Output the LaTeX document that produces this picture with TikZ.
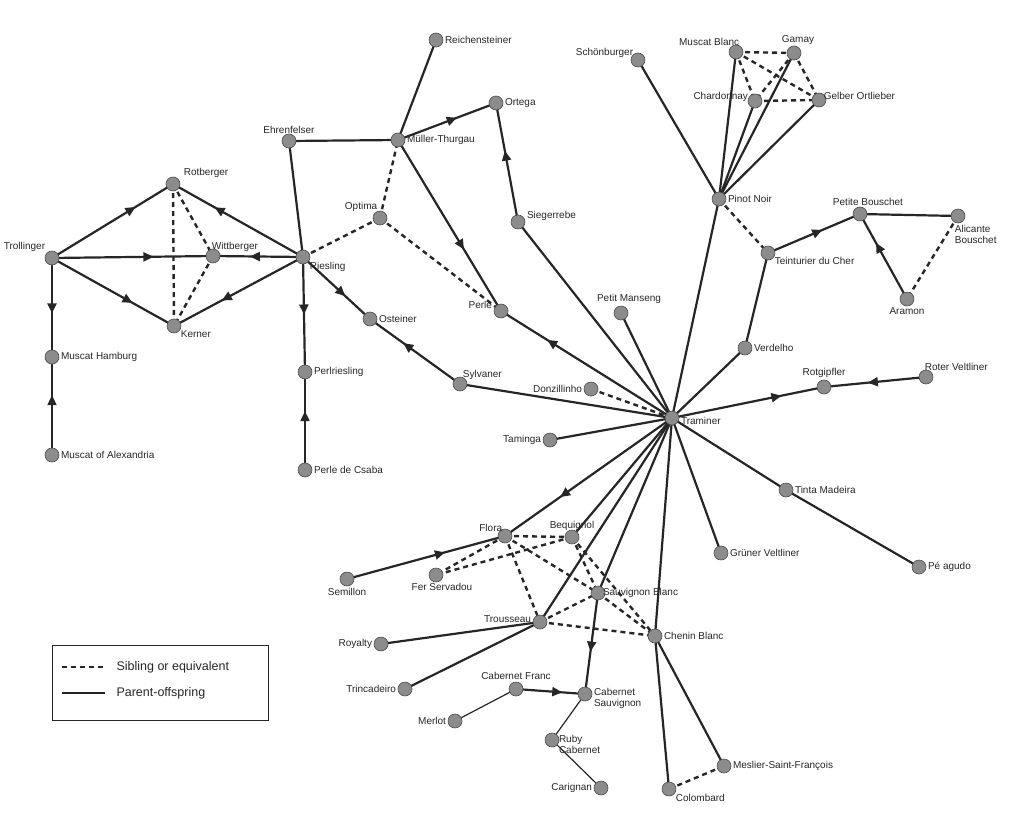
\documentclass[tikz,border=0pt]{standalone}
\usepackage{fontspec}
\setmainfont{Liberation Sans}
\usetikzlibrary{arrows.meta,decorations.markings}
\pgfdeclarelayer{bg}
\pgfsetlayers{bg,main}
\begin{document}
\begin{tikzpicture}[x=1pt,y=-1pt,
  v/.style={circle,fill=black!45,draw=black!70,line width=0.6pt,minimum size=14pt,inner sep=0pt},
  every label/.style={font=\fontsize{10}{11}\selectfont,inner sep=1.5pt,text=black!85},
  s/.style={line width=2.2pt,black!85},
  t/.style={line width=1.2pt,black!85},
  d/.style={line width=2.4pt,black!85,dash pattern=on 5pt off 4pt},
  ar/.style={postaction={decorate},decoration={markings,mark=at position #1 with {\arrow{Triangle[length=10pt,width=9pt]}}}},
  ar/.default=0.6]
\useasboundingbox (0,0) rectangle (1027,816);
% nodes
\node[v,label={above left:Trollinger}] (trol) at (52,258) {};
\node[v,label={[xshift=4pt]above right:Rotberger}] (rot) at (173,184) {};
\node[v,label={[xshift=-8pt,yshift=-2pt]above right:Wittberger}] (witt) at (213,256) {};
\node[v,label={[yshift=2pt]below right:Kerner}] (kern) at (174,326) {};
\node[v,label={[yshift=2pt]below right:Riesling}] (ries) at (303,257) {};
\node[v,label={right:Muscat Hamburg}] (mh) at (52,357) {};
\node[v,label={right:Muscat of Alexandria}] (moa) at (52,455) {};
\node[v,label={[yshift=-2pt]above:Ehrenfelser}] (ehr) at (289,141) {};
\node[v,label={right:Müller-Thurgau}] (mt) at (398,140) {};
\node[v,label={right:Reichensteiner}] (reich) at (436,40) {};
\node[v,label={right:Ortega}] (ort) at (496,103) {};
\node[v,label={[xshift=4pt]above left:Optima}] (opt) at (380,218) {};
\node[v,label={[yshift=6pt]right:Siegerrebe}] (sieg) at (518,222) {};
\node[v,label={[yshift=6pt]left:Perle}] (perle) at (501,311) {};
\node[v,label={right:Osteiner}] (ost) at (370,319) {};
\node[v,label={right:Perlriesling}] (perlr) at (305,372) {};
\node[v,label={right:Perle de Csaba}] (pdc) at (305,470) {};
\node[v,label={[xshift=-4pt,yshift=-2pt]above right:Sylvaner}] (sylv) at (460,384) {};
\node[v,label={left:Donzillinho}] (donz) at (591,389) {};
\node[v,label={[xshift=8pt]above:Petit Manseng}] (pm) at (621,313) {};
\node[v,label={[yshift=-3pt]right:Traminer}] (tram) at (672,418) {};
\node[v,label={left:Taminga}] (tam) at (550,440) {};
\node[v,label={[xshift=2pt,yshift=-4pt]above left:Schönburger}] (schon) at (638,60) {};
\node[v,label={[xshift=10pt]above left:Muscat Blanc}] (mb) at (736,52) {};
\node[v,label={[xshift=4pt,yshift=-1pt]above:Gamay}] (gam) at (794,53) {};
\node[v,label={[xshift=2pt,yshift=4pt]left:Chardonnay}] (chard) at (755,101) {};
\node[v,label={[xshift=-2pt,yshift=-6pt]above right:Gelber Ortlieber}] (go) at (819,100) {};
\node[v,label={right:Pinot Noir}] (pn) at (719,199) {};
\node[v,label={[xshift=8pt,yshift=-1pt]above:Petite Bouschet}] (pb) at (860,214) {};
\node[v,label={[xshift=-10pt,yshift=-2pt,align=left]below right:Alicante\\Bouschet}] (ab) at (958,216) {};
\node[v,label={[yshift=3pt]below right:Teinturier du Cher}] (tein) at (768,253) {};
\node[v,label={below:Aramon}] (aram) at (907,299) {};
\node[v,label={right:Verdelho}] (verd) at (745,348) {};
\node[v,label={above:Rotgipfler}] (rotg) at (824,387) {};
\node[v,label={[xshift=-8pt]above right:Roter Veltliner}] (rv) at (926,377) {};
\node[v,label={right:Tinta Madeira}] (tm) at (786,490) {};
\node[v,label={right:Pé agudo}] (pea) at (919,567) {};
\node[v,label={right:Grüner Veltliner}] (gv) at (721,553) {};
\node[v,label={[xshift=4pt,yshift=-2pt]above left:Flora}] (flora) at (505,536) {};
\node[v,label={[yshift=-3pt]above:Bequignol}] (beq) at (572,537) {};
\node[v,label={below:Semillon}] (sem) at (347,579) {};
\node[v,label={[xshift=6pt,yshift=1pt]below:Fer Servadou}] (fer) at (436,575) {};
\node[v,label={[xshift=-4pt]right:Sauvignon Blanc}] (sb) at (598,593) {};
\node[v,label={[yshift=3pt]left:Trousseau}] (trou) at (540,622) {};
\node[v,label={right:Chenin Blanc}] (chen) at (655,636) {};
\node[v,label={left:Royalty}] (roy) at (381,644) {};
\node[v,label={left:Trincadeiro}] (trin) at (405,689) {};
\node[v,label={above:Cabernet Franc}] (cf) at (516,689) {};
\node[v,label={[align=left,yshift=-4pt]right:Cabernet\\Sauvignon}] (cs) at (585,694) {};
\node[v,label={left:Merlot}] (mer) at (455,721) {};
\node[v,label={[align=left,xshift=-2pt,yshift=-4pt]right:Ruby\\Cabernet}] (rc) at (552,740) {};
\node[v,label={left:Carignan}] (car) at (601,788) {};
\node[v,label={[yshift=2pt]below right:Colombard}] (col) at (669,789) {};
\node[v,label={right:Meslier-Saint-François}] (mes) at (724,766) {};
\begin{pgfonlayer}{bg}
% Trollinger cluster
\draw[s,ar=0.69] (trol.center) -- (rot.center);
\draw[s,ar=0.63] (trol.center) -- (witt.center);
\draw[s,ar=0.66] (trol.center) -- (kern.center);
\draw[s,ar=0.56] (trol.center) -- (mh.center);
\draw[s,ar=0.61] (moa.center) -- (mh.center);
\draw[s,ar=0.68] (ries.center) -- (rot.center);
\draw[s,ar=0.59] (ries.center) -- (witt.center);
\draw[s,ar=0.63] (ries.center) -- (kern.center);
\draw[d] (rot.center) -- (kern.center);
\draw[d] (rot.center) -- (witt.center);
\draw[d] (witt.center) -- (kern.center);
\draw[s,ar=0.5] (ries.center) -- (perlr.center);
\draw[s,ar=0.6] (pdc.center) -- (perlr.center);
\draw[s,ar=0.63] (ries.center) -- (ost.center);
\draw[s,ar=0.63] (sylv.center) -- (ost.center);
\draw[s] (ries.center) -- (ehr.center);
\draw[s] (ehr.center) -- (mt.center);
\draw[s] (mt.center) -- (reich.center);
\draw[s,ar=0.6] (mt.center) -- (ort.center);
\draw[s,ar=0.6] (sieg.center) -- (ort.center);
\draw[s,ar=0.64] (mt.center) -- (perle.center);
\draw[d] (ries.center) -- (opt.center);
\draw[d] (opt.center) -- (mt.center);
\draw[d] (opt.center) -- (perle.center);
\draw[s,ar=0.73] (tram.center) -- (perle.center);
\draw[s] (tram.center) -- (sieg.center);
\draw[s] (tram.center) -- (sylv.center);
\draw[d] (tram.center) -- (donz.center);
\draw[s] (tram.center) -- (pm.center);
\draw[s] (tram.center) -- (tam.center);
% Pinot
\draw[s] (tram.center) -- (pn.center);
\draw[s] (schon.center) -- (pn.center);
\draw[s] (pn.center) -- (mb.center);
\draw[s] (pn.center) -- (gam.center);
\draw[s] (pn.center) -- (chard.center);
\draw[s] (pn.center) -- (go.center);
\draw[d] (mb.center) -- (gam.center);
\draw[d] (mb.center) -- (go.center);
\draw[d] (mb.center) -- (chard.center);
\draw[d] (gam.center) -- (chard.center);
\draw[d] (gam.center) -- (go.center);
\draw[d] (chard.center) -- (go.center);
\draw[d] (pn.center) -- (tein.center);
\draw[s,ar=0.59] (tein.center) -- (pb.center);
\draw[s,ar=0.66] (aram.center) -- (pb.center);
\draw[s] (pb.center) -- (ab.center);
\draw[d] (ab.center) -- (aram.center);
\draw[s] (tein.center) -- (verd.center);
\draw[s] (tram.center) -- (verd.center);
\draw[s,ar=0.72] (tram.center) -- (rotg.center);
\draw[s,ar=0.57] (rv.center) -- (rotg.center);
\draw[s] (tram.center) -- (tm.center);
\draw[s] (tm.center) -- (pea.center);
\draw[s] (tram.center) -- (gv.center);
% lower cluster
\draw[s,ar=0.67] (tram.center) -- (flora.center);
\draw[s] (tram.center) -- (beq.center);
\draw[s] (tram.center) -- (trou.center);
\draw[s] (tram.center) -- (sb.center);
\draw[s] (tram.center) -- (chen.center);
\draw[s,ar=0.62] (sem.center) -- (flora.center);
\draw[d] (flora.center) -- (beq.center);
\draw[d] (flora.center) -- (fer.center);
\draw[d] (beq.center) -- (fer.center);
\draw[d] (flora.center) -- (trou.center);
\draw[d] (flora.center) -- (sb.center);
\draw[d] (sb.center) -- (chen.center);
\draw[d] (beq.center) -- (sb.center);
\draw[d] (beq.center) -- (chen.center);
\draw[d] (trou.center) -- (sb.center);
\draw[d] (trou.center) -- (chen.center);
\draw[s] (trou.center) -- (roy.center);
\draw[s] (trou.center) -- (trin.center);
\draw[s,ar=0.58] (sb.center) -- (cs.center);
\draw[s,ar=0.67] (cf.center) -- (cs.center);
\draw[t] (mer.center) -- (cf.center);
\draw[t] (rc.center) -- (cs.center);
\draw[t] (rc.center) -- (car.center);
\draw[s] (chen.center) -- (col.center);
\draw[s] (chen.center) -- (mes.center);
\draw[d] (col.center) -- (mes.center);
\end{pgfonlayer}
% legend
\node[draw=black!85,line width=1.2pt,minimum width=216pt,minimum height=75pt,anchor=north west] (leg) at (52,645) {};
\coordinate (l1a) at (62,667); \coordinate (l1b) at (105,667);
\coordinate (l2a) at (62,693); \coordinate (l2b) at (105,693);
\draw[d] (l1a) -- (l1b);
\draw[s,line width=2.8pt] (l2a) -- (l2b);
\node[anchor=west,font=\fontsize{12.5}{14}\selectfont,text=black!85] (lt1) at (113,667) {Sibling or equivalent};
\node[anchor=west,font=\fontsize{12.5}{14}\selectfont,text=black!85] (lt2) at (113,693) {Parent-offspring};
\end{tikzpicture}
\end{document}
